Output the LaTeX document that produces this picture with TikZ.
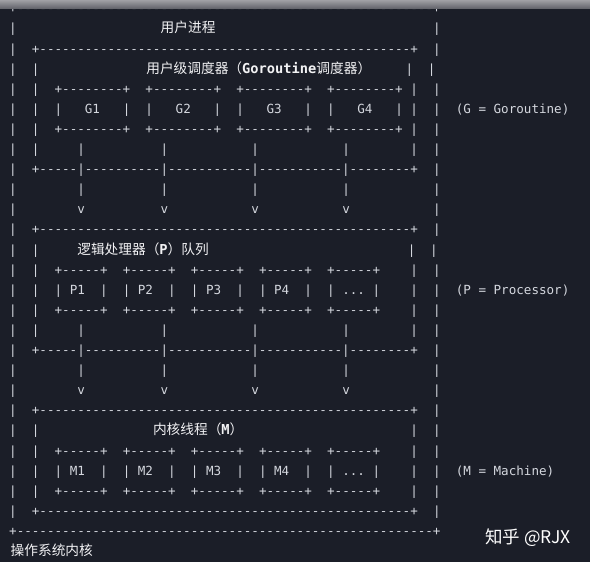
\documentclass[tikz,border=0pt]{standalone}
\usepackage{fontspec}
\setmonofont{DejaVu Sans Mono}
\newfontfamily\cjk{Noto Sans CJK SC}

\definecolor{bg}{RGB}{27,30,40}
\definecolor{art}{RGB}{212,215,222}
\definecolor{cjktext}{RGB}{242,242,244}
\definecolor{stripTop}{RGB}{160,160,165}
\definecolor{stripBot}{RGB}{100,101,108}

\ExplSyntaxOn
\NewDocumentCommand\repch{mm}{\prg_replicate:nn{#1}{#2}}
\ExplSyntaxOff

% one run of characters, placed by row and column
\newcommand\cell[3]{\node[asc] (r#1c#2) at ({9.2+#2*\cw},{12.8+#1*\lh}) {#3};}

\begin{document}
\begin{tikzpicture}[x=1pt,y=-1pt,
  asc/.style={font=\ttfamily\fontsize{12.57}{15}\selectfont, text=art,
    anchor=base west, inner sep=0pt, outer sep=0pt},
  hdr/.style={font=\cjk\fontsize{13.7}{16}\selectfont, text=cjktext,
    anchor=base west, inner sep=0pt, outer sep=0pt},
  wmark/.style={font=\cjk\fontsize{17.5}{20}\selectfont, text=white,
    anchor=base west, inner sep=0pt}]

  \def\cw{7.57}
  \def\lh{20.1}

  \useasboundingbox (0,0) rectangle (590,562);
  \fill[bg] (0,0) rectangle (590,562);

  % outer frame
  \cell{0}{0}{+\repch{55}{-}+}
  \cell{26}{0}{+\repch{55}{-}+}
  \foreach \r in {1,...,25} {\cell{\r}{0}{|}}
  \foreach \r in {1,2,4,5,...,11,13,14,...,25} {\cell{\r}{56}{|}}

  % inner frames
  \foreach \r in {2,11,20,25} {\cell{\r}{3}{+\repch{49}{-}+}}
  \foreach \r in {3,4,...,7,12,13,...,16,21,22,...,24} {\cell{\r}{3}{|}}
  \foreach \r in {4,5,...,7,13,14,...,16,21,22,...,24} {\cell{\r}{53}{|}}

  % titles
  \node[hdr] (proc) at (160.7,{12.8+1*\lh}) {用户进程};
  \node[hdr] (gsched) at (146.3,{12.8+3*\lh}) {用户级调度器（{\ttfamily\bfseries Goroutine}调度器）};
  \node[asc] (r3bar1) at (405.5,{12.8+3*\lh}) {|};
  \node[asc] (r3bar2) at (427.9,{12.8+3*\lh}) {|};
  \node[hdr] (pqueue) at (77.3,{12.8+12*\lh}) {逻辑处理器（{\ttfamily\bfseries P}）队列};
  \node[asc] (r12bar1) at (407.9,{12.8+12*\lh}) {|};
  \node[asc] (r12bar2) at (430.2,{12.8+12*\lh}) {|};
  \node[hdr] (mthread) at (153,{12.8+21*\lh}) {内核线程（{\ttfamily\bfseries M}）};
  \node[hdr] (kernel) at (10.7,{12.8+27*\lh}) {操作系统内核};

  % goroutine boxes
  \foreach \c [count=\k, evaluate=\c as \l using int(\c+4),
      evaluate=\c as \e using int(\c+9)] in {6,18,30,42} {
    \cell{4}{\c}{+\repch{8}{-}+}
    \cell{5}{\c}{|}
    \cell{5}{\l}{G\k}
    \cell{5}{\e}{|}
    \cell{6}{\c}{+\repch{8}{-}+}
  }
  \cell{5}{59}{(G = Goroutine)}

  % processor and machine boxes
  \foreach \c [count=\k, evaluate=\c as \l using int(\c+2),
      evaluate=\c as \e using int(\c+6)] in {6,15,24,33} {
    \cell{14}{\c}{|}
    \cell{14}{\l}{P\k}
    \cell{14}{\e}{|}
    \cell{23}{\c}{|}
    \cell{23}{\l}{M\k}
    \cell{23}{\e}{|}
  }
  \cell{14}{42}{| ... |}
  \cell{23}{42}{| ... |}
  \foreach \c in {6,15,24,33,42} {
    \cell{13}{\c}{+\repch{5}{-}+}
    \cell{15}{\c}{+\repch{5}{-}+}
    \cell{22}{\c}{+\repch{5}{-}+}
    \cell{24}{\c}{+\repch{5}{-}+}
  }
  \cell{14}{59}{(P = Processor)}
  \cell{23}{59}{(M = Machine)}

  % links between the layers
  \foreach \r in {8,17} {\cell{\r}{3}{+\repch{5}{-}|\repch{10}{-}|\repch{11}{-}|\repch{11}{-}|\repch{8}{-}+}}
  \foreach \c in {9,20,32,44} {
    \foreach \r in {7,9,16,18} {\cell{\r}{\c}{|}}
    \cell{10}{\c}{v}
    \cell{19}{\c}{v}
  }

  \node[wmark] (mark) at (485,543.5) {知乎 @RJX};

  % window edge
  \shade[top color=stripTop, bottom color=stripBot] (0,0) rectangle (590,8.3);

\end{tikzpicture}
\end{document}
